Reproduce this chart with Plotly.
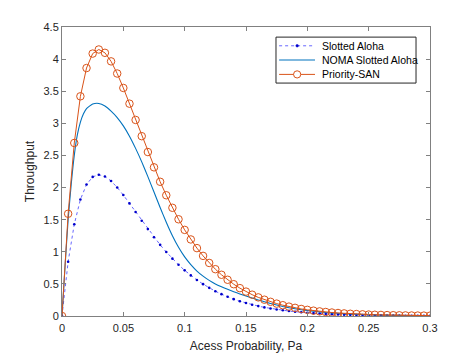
import plotly.graph_objects as go

# Access probability grid (Pa)
pa = [round(i * 0.005, 3) for i in range(61)]

slotted_aloha = [0, 0.844, 1.428, 1.814, 2.047, 2.166, 2.2, 2.173, 2.102, 2.002,
                 1.883, 1.753, 1.619, 1.484, 1.353, 1.227, 1.108, 0.997, 0.893, 0.798,
                 0.711, 0.632, 0.561, 0.496, 0.438, 0.386, 0.340, 0.299, 0.262, 0.230,
                 0.202, 0.176, 0.154, 0.134, 0.117, 0.102, 0.089, 0.077, 0.067, 0.058,
                 0.051, 0.044, 0.038, 0.033, 0.029, 0.025, 0.021, 0.019, 0.016, 0.014,
                 0.012, 0.010, 0.009, 0.008, 0.007, 0.006, 0.005, 0.004, 0.004, 0.003,
                 0.003]

noma_pa = [0, 0.0025, 0.005, 0.0075, 0.01, 0.0125, 0.015, 0.0175, 0.02, 0.025,
           0.03, 0.035, 0.04, 0.045, 0.05, 0.055, 0.06, 0.065, 0.07, 0.075,
           0.08, 0.085, 0.09, 0.095, 0.1, 0.105, 0.11, 0.115, 0.12, 0.125,
           0.13, 0.135, 0.14, 0.145, 0.15, 0.155, 0.16, 0.165, 0.17, 0.175,
           0.18, 0.185, 0.19, 0.195, 0.2, 0.205, 0.21, 0.215, 0.22, 0.225,
           0.23, 0.235, 0.24, 0.245, 0.25, 0.255, 0.26, 0.265, 0.27, 0.275,
           0.28, 0.285, 0.29, 0.295, 0.3]
noma_aloha = [0, 0.78, 1.50, 2.05, 2.50, 2.82, 3.02, 3.15, 3.23, 3.30,
              3.31, 3.27, 3.19, 3.09, 2.96, 2.80, 2.61, 2.40, 2.17, 1.93,
              1.69, 1.46, 1.25, 1.07, 0.92, 0.80, 0.70, 0.62, 0.555, 0.50,
              0.455, 0.415, 0.378, 0.343, 0.31, 0.28, 0.25, 0.222, 0.195, 0.17,
              0.148, 0.129, 0.112, 0.098, 0.085, 0.074, 0.064, 0.055, 0.048, 0.042,
              0.036, 0.031, 0.027, 0.023, 0.020, 0.017, 0.015, 0.013, 0.011, 0.0095,
              0.0082, 0.0070, 0.0061, 0.0052, 0.0045]

priority_san = [0, 1.592, 2.694, 3.421, 3.861, 4.086, 4.15, 4.098, 3.965, 3.776,
                3.551, 3.306, 3.053, 2.800, 2.553, 2.315, 2.090, 1.880, 1.685, 1.506,
                1.341, 1.192, 1.057, 0.936, 0.826, 0.729, 0.642, 0.564, 0.495, 0.434,
                0.380, 0.332, 0.290, 0.254, 0.221, 0.193, 0.168, 0.146, 0.127, 0.110,
                0.0957, 0.083, 0.072, 0.0624, 0.054, 0.0468, 0.0405, 0.035, 0.0303, 0.0261,
                0.0226, 0.0195, 0.0168, 0.0145, 0.0125, 0.0108, 0.0093, 0.008, 0.0069, 0.0059,
                0.0051]

series_names = ["Slotted Aloha", "NOMA Slotted Aloha", "Priority-SAN"]
x_ticks = [0, 0.05, 0.1, 0.15, 0.2, 0.25, 0.3]
y_ticks = [0, 0.5, 1, 1.5, 2, 2.5, 3, 3.5, 4, 4.5]

FONT = "Liberation Sans, Arial, sans-serif"
C_ALOHA_LINE, C_ALOHA_DOT = "#4040FF", "#0000CC"
C_NOMA = "#0072BD"
C_PRIO = "#D95319"

fig = go.Figure()
fig.add_trace(go.Scatter(
    x=pa, y=slotted_aloha, name=series_names[0], mode="lines+markers",
    line=dict(color=C_ALOHA_LINE, width=0.8, dash="dot"),
    marker=dict(color=C_ALOHA_DOT, size=2.6, symbol="circle"),
))
fig.add_trace(go.Scatter(
    x=noma_pa, y=noma_aloha, name=series_names[1], mode="lines",
    line=dict(color=C_NOMA, width=1.1, shape="spline", smoothing=0.5),
))
fig.add_trace(go.Scatter(
    x=pa, y=priority_san, name=series_names[2], mode="lines+markers",
    line=dict(color=C_PRIO, width=1),
    marker=dict(color=C_PRIO, size=7.5, symbol="circle-open", line=dict(width=1)),
))

axis_common = dict(
    showline=True, linecolor="#808080", linewidth=1, mirror="allticks",
    ticks="inside", ticklen=4, tickcolor="#808080", tickwidth=1,
    showgrid=False, zeroline=False, automargin=False,
    tickfont=dict(family=FONT, size=11, color="#262626"),
)
fig.update_xaxes(range=[0, 0.3], tickvals=x_ticks,
                 ticktext=[str(v) for v in x_ticks], ticklabelstandoff=2,
                 title=dict(text="Acess Probability, Pa", standoff=8,
                            font=dict(family=FONT, size=12, color="#262626")),
                 **axis_common)
fig.update_yaxes(range=[0, 4.5], tickvals=y_ticks,
                 ticktext=[("%g" % v) for v in y_ticks],
                 title=dict(text="Throughput", standoff=6,
                            font=dict(family=FONT, size=12, color="#262626")),
                 **axis_common)

# Compact MATLAB-style legend box (layout decoration in paper coordinates)
shapes = [dict(type="rect", xref="paper", yref="paper", x0=0.5815, x1=0.962,
               y0=0.806, y1=0.965, line=dict(color="#262626", width=1),
               fillcolor="white", layer="above")]
rows = [0.935, 0.886, 0.836]
lx0, lx1, lxm = 0.590, 0.6875, 0.639
shapes.append(dict(type="line", xref="paper", yref="paper", x0=lx0, x1=lx1,
                   y0=rows[0], y1=rows[0], line=dict(color=C_ALOHA_LINE, width=0.8, dash="dot"),
                   layer="above"))
shapes.append(dict(type="circle", xref="paper", yref="paper",
                   x0=lxm - 0.0035, x1=lxm + 0.0035, y0=rows[0] - 0.0045, y1=rows[0] + 0.0045,
                   line=dict(color=C_ALOHA_DOT, width=0.5), fillcolor=C_ALOHA_DOT, layer="above"))
shapes.append(dict(type="line", xref="paper", yref="paper", x0=lx0, x1=lx1,
                   y0=rows[1], y1=rows[1], line=dict(color=C_NOMA, width=1.1), layer="above"))
shapes.append(dict(type="line", xref="paper", yref="paper", x0=lx0, x1=lx1,
                   y0=rows[2], y1=rows[2], line=dict(color=C_PRIO, width=1), layer="above"))
shapes.append(dict(type="circle", xref="paper", yref="paper",
                   x0=lxm - 0.0098, x1=lxm + 0.0098, y0=rows[2] - 0.0125, y1=rows[2] + 0.0125,
                   line=dict(color=C_PRIO, width=1), fillcolor="white", layer="above"))

annotations = [dict(xref="paper", yref="paper", x=0.701, y=r, text=n, showarrow=False,
                    xanchor="left", yanchor="middle",
                    font=dict(family=FONT, size=10.5, color="#000000"))
               for n, r in zip(series_names, rows)]

# The page body adds an 8px offset, so the figure is 8px smaller than the window.
fig.update_layout(
    width=466, height=347,
    margin=dict(l=54, r=44, t=19, b=39),
    paper_bgcolor="white", plot_bgcolor="white",
    showlegend=False,
    shapes=shapes, annotations=annotations,
)

fig.write_html("out.html")
